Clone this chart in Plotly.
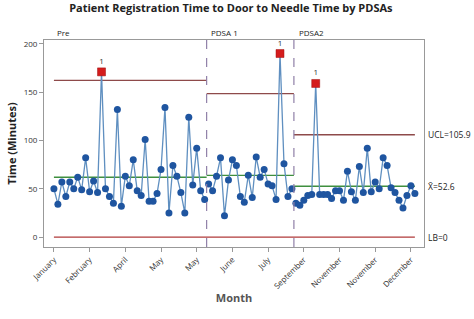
import plotly.graph_objects as go

# ---- data ----
values = [
    50, 34, 57, 42, 57, 50, 62, 49, 82, 47, 58, 46, 171, 50, 42, 35, 132, 32, 63, 53,
    80, 48, 43, 101, 37, 37, 45, 70, 134, 25, 74, 63, 46, 25, 124, 54, 92, 48, 39,
    55, 48, 63, 82, 22, 59, 80, 74, 42, 36, 64, 41, 83, 62, 70, 55, 53, 39, 190, 76, 42, 50,
    35, 33, 38, 43, 44, 159, 44, 44, 44, 40, 48, 48, 38, 68, 47, 38, 73, 46, 92,
    47, 57, 50, 82, 74, 51, 46, 38, 30, 43, 53, 45,
]
phase_names = ["Pre", "PDSA 1", "PDSA2"]
phase_start = [0, 39, 61]
phase_end = [38, 60, 91]
ucl = [162.2, 148.5, 105.9]
center = [61.9, 63.9, 52.6]
lb = 0
out_points = [12, 57, 66]
tick_idx = [0, 9, 18, 27, 36, 45, 54, 63, 72, 81, 90]
tick_labels = ["January", "February", "April", "May", "May", "June", "July",
               "September", "November", "November", "December"]

idx = list(range(len(values)))
font = "Open Sans"
fig = go.Figure()

# control limits per phase
for k in range(3):
    x0 = phase_start[k] if k == 0 else phase_start[k] - 0.5
    x1 = phase_end[k] + 0.5 if k < 2 else phase_end[k]
    fig.add_trace(go.Scatter(x=[x0, x1], y=[ucl[k], ucl[k]], mode="lines",
                             line=dict(color="#8e4a4a", width=1.3), hoverinfo="skip"))
    fig.add_trace(go.Scatter(x=[x0, x1], y=[center[k], center[k]], mode="lines",
                             line=dict(color="#3f8f3f", width=1.3), hoverinfo="skip"))
fig.add_trace(go.Scatter(x=[0, len(values) - 1], y=[lb, lb], mode="lines",
                         line=dict(color="#b03a3a", width=1.3), hoverinfo="skip"))

# data line per phase
for k in range(3):
    xs = idx[phase_start[k]:phase_end[k] + 1]
    ys = values[phase_start[k]:phase_end[k] + 1]
    fig.add_trace(go.Scatter(x=xs, y=ys, mode="lines+markers",
                             line=dict(color="#5f8fc0", width=1.3),
                             marker=dict(color="#1f55a0", size=7, symbol="circle")))

fig.add_trace(go.Scatter(x=out_points, y=[values[i] for i in out_points], mode="markers+text",
                         marker=dict(color="#d41c1c", size=8, symbol="square",
                                     line=dict(color="#a01010", width=0.5)),
                         text=["1"] * len(out_points), textposition="top center",
                         textfont=dict(size=8, color="#333", family=font)))

# phase dividers
for k in range(1, 3):
    fig.add_shape(type="line", x0=phase_start[k] - 0.5, x1=phase_start[k] - 0.5,
                  y0=0, y1=1, yref="paper",
                  line=dict(color="#9080a8", width=1.2, dash="dash"))

# phase labels
for k in range(3):
    fig.add_annotation(x=phase_start[k] + 0.2, y=1.0, yref="paper",
                       text=phase_names[k], showarrow=False, xanchor="left", yanchor="bottom",
                       font=dict(size=8, color="#222", family=font))

# right-side labels
rl = [("UCL=105.9", ucl[2]), ("X̄=52.6", center[2]), ("LB=0", lb)]
for t, yv in rl:
    fig.add_annotation(x=1.0, xref="paper", xshift=2, y=yv, text=t, showarrow=False,
                       xanchor="left", yanchor="middle",
                       font=dict(size=8.5, color="#222", family=font))

fig.update_layout(
    width=474, height=319,
    margin=dict(l=41, r=50, t=40, b=72),
    paper_bgcolor="white", plot_bgcolor="white",
    showlegend=False,
    title=dict(text="<b>Patient Registration Time to Door to Needle Time by PDSAs</b>",
               x=0.487, xanchor="center", y=0.975, yanchor="middle",
               font=dict(size=11, color="#222", family=font)),
    font=dict(family=font, color="#222"),
)
fig.update_xaxes(range=[-2.5, 93.3], tickmode="array", tickvals=tick_idx, ticktext=tick_labels,
                 tickangle=-45, ticks="outside", ticklen=4, tickcolor="#999",
                 tickfont=dict(size=8, color="#333"),
                 showgrid=False, zeroline=False, showline=True, linecolor="#999", mirror=True,
                 title=dict(text="<b>Month</b>", font=dict(size=11, color="#555"), standoff=4))
fig.update_yaxes(range=[-10.3, 204], tickvals=[0, 50, 100, 150, 200],
                 ticks="outside", ticklen=4, tickcolor="#999",
                 tickfont=dict(size=8, color="#333"),
                 showgrid=False, zeroline=False, showline=True, linecolor="#999", mirror=True,
                 title=dict(text="<b>Time (Minutes)</b>", font=dict(size=11, color="#222"), standoff=4))

fig.write_html("out.html")
